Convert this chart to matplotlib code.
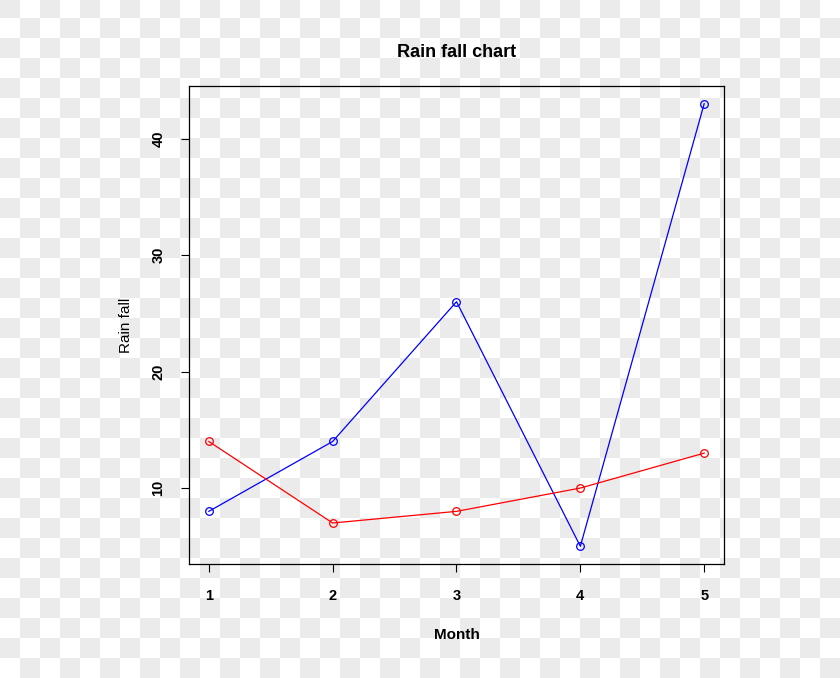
import numpy as np
import matplotlib.pyplot as plt

months = [1, 2, 3, 4, 5]
rain_blue = [8, 14, 26, 5, 43]
rain_red = [14, 7, 8, 10, 13]
x_ticks = [1, 2, 3, 4, 5]
y_ticks = [10, 20, 30, 40]

plt.rcParams['font.family'] = ['Liberation Sans', 'DejaVu Sans']

fig = plt.figure(figsize=(8.4, 6.78), dpi=100)

# checkerboard backdrop (transparent png look)
h, w = 678, 840
yy, xx = np.mgrid[0:h, 0:w]
chk = ((xx // 20 + yy // 20) % 2).astype(float)
bg = np.where(chk[..., None] == 1, 235 / 255, 1.0) * np.ones((h, w, 3))
fig.figimage(bg[::-1], xo=0, yo=0, zorder=-10)

ax = fig.add_axes([189 / 840, 1 - 564 / 678, (724 - 189) / 840, (564 - 86) / 678])
ax.patch.set_alpha(0)

ax.plot(months, rain_blue, color='#0000ff', lw=0.9, marker='o', ms=5.5,
        mfc='none', mew=0.9)
ax.plot(months, rain_red, color='#ff0000', lw=0.9, marker='o', ms=5.5,
        mfc='none', mew=0.9)

allv = rain_blue + rain_red
lo, hi = min(allv), max(allv)
pad = (hi - lo) * 0.04
ax.set_ylim(lo - pad, hi + pad)
ax.set_xlim(1 - 0.16, 5 + 0.16)

ax.set_xticks(x_ticks)
ax.set_yticks(y_ticks)
ax.set_xticklabels([str(t) for t in x_ticks], fontsize=10.5, fontweight='bold')
ax.set_yticklabels([str(t) for t in y_ticks], fontsize=10.5, fontweight='bold',
                   rotation=90, va='center')
ax.tick_params(direction='out', length=6, width=0.8, pad=11)
ax.tick_params(axis='x', pad=12)
for s in ax.spines.values():
    s.set_linewidth(0.9)

ax.set_title('Rain fall chart', fontsize=13, fontweight='bold', pad=21)
ax.set_xlabel('Month', fontsize=11, fontweight='bold', labelpad=18)
ax.set_ylabel('Rain fall', fontsize=11, labelpad=13)

fig.savefig('out.png', dpi=100)
